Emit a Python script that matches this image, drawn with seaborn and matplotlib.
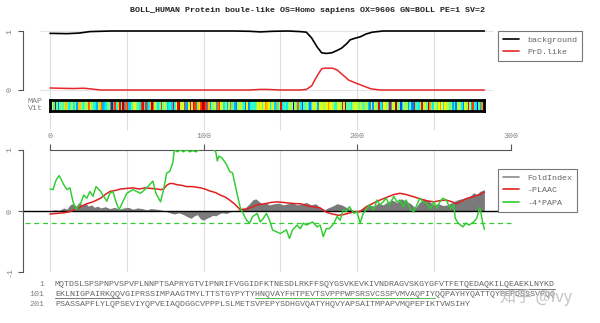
import numpy as np
import matplotlib
matplotlib.use("Agg")
import matplotlib.pyplot as plt
import seaborn as sns
from matplotlib.lines import Line2D

# ---------------- data ----------------
title = "BOLL_HUMAN Protein boule-like OS=Homo sapiens OX=9606 GN=BOLL PE=1 SV=2"

seq_line1 = "MQTDSLSPSPNPVSPVPLNNPTSAPRYGTVIPNRIFVGGIDFKTNESDLRKFFSQYGSVKEVKIVNDRAGVSKGYGFVTFETQEDAQKILQEAEKLNYKD"
seq_line2 = "EKLNIGPAIRKQQVGIPRSSIMPAAGTMYLTTSTGYPYTYHNQVAYFHTPEVTSVPPPWPSRSVCSSPVMVAQPIYQQPAYHYQATTQYPEPDSSSVPQQ"
seq_line3 = "PSASSAPFLYLQPSEVIYQPVEIAQDGGCVPPPLSLMETSVPEPYSDHGVQATYHQVYAPSAITMPAPVMQPEPIKTVWSIHY"
line_numbers = ["1", "101", "201"]
core_underline = (78, 113)      # residues underlined in gray
prd_underline = (141, 176)      # residues underlined in green

# per-residue colour value (jet colormap) used for the MAP/Vit strip
aa_score = {'D': 0.95, 'E': 0.9, 'K': 0.85, 'R': 0.8, 'H': 0.75, 'N': 0.7, 'Y': 0.65, 'Q': 0.62,
            'A': 0.58, 'P': 0.55, 'G': 0.5, 'S': 0.45, 'T': 0.4, 'V': 0.36, 'F': 0.33, 'I': 0.3,
            'L': 0.28, 'M': 0.25, 'C': 0.2, 'W': 0.1}

# top panel
bg_res = [0, 5, 11, 19, 26, 33, 40, 60, 80, 100, 120, 130, 137, 145, 155, 163, 167, 170.5, 174, 177,
          180, 183.5, 187, 190, 193.5, 195.5, 199, 202, 206, 210, 217, 240, 260, 283]
bg_val = [0.96, 0.958, 0.955, 0.965, 0.99, 0.995, 1.0, 1.0, 1.0, 1.0, 1.0, 0.995, 0.985, 0.995, 1.0, 0.99, 0.98, 0.88, 0.73, 0.63,
          0.62, 0.63, 0.67, 0.71, 0.79, 0.85, 0.88, 0.9, 0.95, 0.98, 1.0, 1.0, 1.0, 1.0]
prd_res = [0, 6, 15, 22, 26, 33, 40, 80, 130, 137, 141, 150, 163, 167, 170.5, 172.5, 175, 177,
           179, 184, 187, 191, 194.5, 198, 201, 205, 209, 215, 240, 283]
prd_val = [0.034, 0.03, 0.025, 0.03, 0.02, 0.0, 0.0, 0.0, 0.0, 0.01, 0.01, 0.0, 0.0, 0.01, 0.07, 0.17, 0.28, 0.36,
           0.37, 0.37, 0.34, 0.25, 0.17, 0.13, 0.10, 0.06, 0.02, 0.0, 0.0, 0.0]

# bottom panel
fold_res = [0, 3, 6, 9, 11, 13, 15, 17, 19, 21, 23, 25, 27, 29, 31, 33, 36, 39, 42, 45, 48, 51, 54, 57, 60,
            63, 66, 69, 72, 75, 78, 81, 84, 87, 90, 92, 94, 96, 98, 100, 102, 104, 106, 108, 110, 112, 115,
            118, 121, 124, 127, 130, 132, 134, 136, 138, 140, 143, 146, 149, 152, 155, 158, 161, 164, 167,
            170, 173, 176, 179, 181, 184, 187, 190, 193, 196, 199, 202, 205, 208, 211, 214, 217, 220, 223,
            226, 229, 232, 235, 238, 241, 244, 247, 250, 253, 256, 259, 262, 265, 268, 271, 274, 276, 278,
            280, 283]
fold_val = [0.0, 0.02, 0.01, 0.05, 0.03, 0.1, 0.12, 0.08, 0.14, 0.1, 0.13, 0.08, 0.1, 0.06, 0.08, 0.05, 0.07,
            0.04, 0.06, 0.03, 0.05, 0.06, 0.03, 0.05, 0.04, 0.02, 0.04, 0.03, 0.02, 0.0, -0.03, -0.05, -0.03,
            -0.06, -0.1, -0.12, -0.08, -0.06, -0.13, -0.15, -0.12, -0.1, -0.07, -0.08, -0.05, -0.03, -0.04,
            -0.01, 0.01, 0.02, 0.05, 0.12, 0.18, 0.2, 0.16, 0.12, 0.14, 0.1, 0.12, 0.13, 0.1, 0.12, 0.13, 0.1,
            0.12, 0.14, 0.1, 0.12, 0.06, 0.02, 0.05, 0.08, 0.12, 0.1, 0.06, 0.02, 0.0, 0.02, 0.05, 0.1, 0.08,
            0.13, 0.1, 0.15, 0.18, 0.14, 0.2, 0.16, 0.12, 0.05, 0.15, 0.2, 0.16, 0.1, 0.12, 0.09, 0.1, 0.14,
            0.18, 0.2, 0.22, 0.25, 0.3, 0.27, 0.32, 0.35]
plaac_res = [0, 4, 9, 13, 17, 20, 24, 28, 33, 36, 39, 43, 46, 50, 54, 58, 62, 66, 70, 72, 74, 76, 78, 80, 83,
             86, 89, 93, 98, 101, 104, 108, 111, 114, 117, 120, 122, 124, 126, 128, 131, 135, 140, 144, 148,
             152, 156, 160, 163, 167, 171, 176, 180, 184, 188, 191, 194, 197, 202, 206, 210, 215, 220, 224,
             228, 232, 236, 241, 245, 250, 254, 258, 262, 265, 268, 271, 275, 280, 283]
plaac_val = [-0.05, -0.04, -0.03, -0.01, 0.03, 0.07, 0.12, 0.15, 0.21, 0.27, 0.32, 0.34, 0.36, 0.37, 0.38, 0.36,
             0.38, 0.37, 0.36, 0.35, 0.36, 0.42, 0.45, 0.45, 0.43, 0.42, 0.40, 0.40, 0.38, 0.36, 0.33, 0.30,
             0.26, 0.23, 0.18, 0.12, 0.07, 0.02, 0.03, 0.03, 0.06, 0.10, 0.12, 0.14, 0.15, 0.14, 0.13, 0.12,
             0.12, 0.09, 0.07, 0.05, -0.02, -0.05, -0.07, -0.06, -0.04, -0.02, -0.01, 0.07, 0.12, 0.18, 0.23,
             0.27, 0.29, 0.27, 0.24, 0.2, 0.17, 0.15, 0.17, 0.18, 0.15, 0.12, 0.16, 0.2, 0.23, 0.27, 0.31]
papa_res = [0, 2, 4, 6, 9, 11, 13, 15, 17, 20, 22, 24, 26, 28, 30, 33, 35, 37, 39, 41, 43, 45, 48, 50, 54,
            59, 63, 67, 69, 72, 74, 76, 78, 80, 81, 83, 85, 87, 89, 91, 93, 95, 97, 99, 102, 105, 107, 108,
            109, 110, 112, 114, 115, 117, 119, 120, 122, 124, 126, 128, 130, 132, 135, 137, 139, 141, 143,
            145, 150, 154, 156, 158, 161, 163, 165, 167, 171, 174, 176, 178, 180, 182, 185, 187, 189, 191,
            193, 195, 198, 200, 202, 204, 206, 208, 211, 213, 215, 217, 219, 221, 224, 226, 228, 230, 232,
            235, 237, 239, 241, 243, 245, 248, 250, 252, 254, 256, 258, 261, 263, 264, 266, 269, 271, 273,
            276, 278, 280, 282, 283]
papa_val = [0.36, 0.35, 0.51, 0.58, 0.43, 0.35, 0.38, 0.15, 0.02, 0.13, 0.26, 0.21, 0.32, 0.24, 0.40, 0.32,
            0.24, 0.16, 0.29, 0.32, 0.15, 0.02, 0.18, 0.29, 0.35, 0.29, 0.38, 0.49, 0.29, 0.15, 0.35, 0.62,
            0.65, 0.79, 1.0, 0.97, 1.0, 0.97, 1.01, 0.97, 0.99, 0.97, 1.0, 1.1, 1.15, 1.1, 1.0, 0.97, 0.82,
            0.9, 0.87, 0.8, 0.76, 0.65, 0.62, 0.5, 0.27, 0.05, -0.05, -0.15, -0.2, -0.09, -0.04, -0.18, -0.12,
            -0.04, -0.15, -0.31, -0.37, -0.31, -0.45, -0.31, -0.23, -0.29, -0.2, -0.23, -0.18, -0.26, -0.23,
            -0.42, -0.29, -0.29, -0.2, -0.09, -0.15, 0.02, -0.01, 0.07, -0.04, -0.01, -0.2, -0.04, 0.02, 0.1,
            0.02, 0.18, 0.1, 0.15, 0.21, 0.1, 0.24, 0.15, 0.18, 0.07, 0.18, 0.02, -0.01, 0.1, 0.21, 0.15,
            0.13, 0.04, 0.15, 0.04, 0.15, 0.21, 0.18, 0.04, 0.1, -0.12, -0.2, -0.26, -0.2, -0.23, -0.18,
            -0.12, 0.06, -0.2, -0.3]
papa_threshold = -0.2

legend_top = ["background", "PrD.like"]
legend_bottom = ["FoldIndex", "-PLAAC", "-4*PAPA"]

# ---------------- styling / layout ----------------
sns.set_theme(style="white")
plt.rcParams['font.family'] = ['Liberation Mono', 'DejaVu Sans']

W, H = 600, 323
fig = plt.figure(figsize=(6.0, 3.23), dpi=100)

X0, SX = 50.0, 1.535           # pixel position of residue 0, pixels per residue
AXL, AXR = 23.0, 520.0
xlim = ((AXL - X0) / SX, (AXR - X0) / SX)

def fpos(l, t, r, b):
    return [l / W, 1 - b / H, (r - l) / W, (b - t) / H]

axis_col = "#555555"
lab_col = "#808080"
fs = 6

# top panel
ax1 = fig.add_axes(fpos(AXL, 28, AXR, 93))
ax1.set_xlim(*xlim)
ax1.set_ylim((90 - 93) / 59.0, (90 - 28) / 59.0)
ax1.vlines([0, 50, 100, 150, 200, 250], (90 - 130) / 59.0, 1.0, color="#dddddd", lw=0.8, clip_on=False, zorder=0)
ax1.hlines([0, 1], -6.5, 288.5, color="#e4e4e4", lw=0.8, zorder=0)
sns.lineplot(x=bg_res, y=bg_val, ax=ax1, color="black", linewidth=1.2, estimator=None, sort=False, legend=False)
sns.lineplot(x=prd_res, y=prd_val, ax=ax1, color="#e8262b", linewidth=1.1, estimator=None, sort=False, legend=False)
for s in ["top", "right", "bottom"]:
    ax1.spines[s].set_visible(False)
ax1.spines["left"].set_bounds(0, 1)
ax1.spines["left"].set_color(axis_col)
ax1.spines["left"].set_linewidth(0.8)
ax1.set_xticks([])
ax1.set_yticks([0, 1])
ax1.set_yticklabels(["0", "1"])
ax1.tick_params(axis="y", left=True, length=3.6, width=0.8, color=axis_col, labelcolor=lab_col,
                labelsize=fs, pad=3, labelrotation=90)
for t in ax1.get_yticklabels():
    t.set_va("center")
ax1.set_xlabel("")
ax1.set_ylabel("")
ax1.patch.set_alpha(0)

# MAP / Vit strip
full_seq = seq_line1 + seq_line2 + seq_line3
strip = np.array([[aa_score[a] for a in full_seq]])
ax3 = fig.add_axes(fpos(X0, 100, X0 + SX * len(full_seq), 111))
sns.heatmap(strip, ax=ax3, cmap="jet", vmin=0, vmax=1, cbar=False, xticklabels=False, yticklabels=False)
for s in ax3.spines.values():
    s.set_visible(True)
    s.set_color("black")
    s.set_linewidth(2.0)
fig.text(43 / W, 1 - 101 / H, "MAP", ha="right", va="center", fontsize=fs, color=lab_col)
fig.text(43 / W, 1 - 109 / H, "Vit", ha="right", va="center", fontsize=fs, color=lab_col)

# bottom panel
ax2 = fig.add_axes(fpos(AXL, 150, AXR, 272))
ax2.set_xlim(*xlim)
ax2.set_ylim(-1, 1)
ax2.vlines([0, 50, 100, 150, 200, 250], -1, 1, color="#dddddd", lw=0.8, zorder=0)
ax2.fill_between(fold_res, fold_val, 0, color="#7a7a7a", lw=0, zorder=1)
ax2.plot([xlim[0], 300], [0, 0], color="black", lw=1.0, zorder=2, clip_on=False)
ax2.plot([(25 - X0) / SX, 300], [papa_threshold, papa_threshold], color="#33cc33", lw=0.9,
         ls=(0, (4, 3)), zorder=2)
sns.lineplot(x=plaac_res, y=plaac_val, ax=ax2, color="#e02020", linewidth=1.1, estimator=None, sort=False,
             legend=False, zorder=3)
sns.lineplot(x=papa_res, y=papa_val, ax=ax2, color="#2ecc2e", linewidth=1.05, estimator=None, sort=False,
             legend=False, zorder=4)
for s in ["right", "bottom"]:
    ax2.spines[s].set_visible(False)
ax2.spines["left"].set_bounds(-1, 1)
ax2.spines["top"].set_bounds(0, 300)
for s in ["left", "top"]:
    ax2.spines[s].set_color(axis_col)
    ax2.spines[s].set_linewidth(0.8)
ax2.xaxis.set_ticks_position("top")
ax2.set_xticks([0, 100, 200, 300])
ax2.set_xticklabels(["0", "100", "200", "300"])
ax2.tick_params(axis="x", top=True, bottom=False, length=4.3, width=0.8, color=axis_col,
                labelcolor=lab_col, labelsize=fs, pad=3)
ax2.set_yticks([-1, 0, 1])
ax2.set_yticklabels(["-1", "0", "1"])
ax2.tick_params(axis="y", left=True, length=3.6, width=0.8, color=axis_col, labelcolor=lab_col,
                labelsize=fs, pad=3, labelrotation=90)
for t in ax2.get_yticklabels():
    t.set_va("center")
ax2.set_xlabel("")
ax2.set_ylabel("")
ax2.patch.set_alpha(0)

# legends
leg_kw = dict(loc="upper left", bbox_transform=fig.transFigure, frameon=True, fancybox=False,
              borderaxespad=0, handlelength=1.9, handletextpad=1.0, borderpad=0.6, labelspacing=0.55,
              prop={"family": "Liberation Mono", "size": fs}, labelcolor="#666666")
h_top = [Line2D([0], [0], color="black", lw=1.2), Line2D([0], [0], color="#e8262b", lw=1.2)]
lg1 = ax1.legend(h_top, legend_top, bbox_to_anchor=(498 / W, 1 - 31 / H), **leg_kw)
h_bot = [Line2D([0], [0], color="#8a8a8a", lw=1.2), Line2D([0], [0], color="#e02020", lw=1.2),
         Line2D([0], [0], color="#2ecc2e", lw=1.2)]
lg2 = ax2.legend(h_bot, legend_bottom, bbox_to_anchor=(498 / W, 1 - 169 / H), **leg_kw)
for lg in (lg1, lg2):
    fr = lg.get_frame()
    fr.set_edgecolor("#777777")
    fr.set_linewidth(0.8)
    fr.set_alpha(1)

# title
fig.text(308 / W, 1 - 11 / H, title, ha="center", va="center", fontsize=fs, fontweight="bold",
         color="#222222", family="Liberation Mono")

# sequence block
seq_fs = 6.0
char_px = 0.6 * seq_fs * 100 / 72.0
seq_x0 = 55.0
line_y = [285.0, 294.5, 304.5]
for num, line, yy in zip(line_numbers, [seq_line1, seq_line2, seq_line3], line_y):
    fig.text(44 / W, 1 - yy / H, num, ha="right", va="center", fontsize=seq_fs, color=lab_col)
    fig.text(seq_x0 / W, 1 - yy / H, line, ha="left", va="center", fontsize=seq_fs, color="#666666")

def underline(start, end, color):
    for i, yy in enumerate(line_y):
        lo, hi = i * 100 + 1, i * 100 + 100
        a, b = max(start, lo), min(end, hi)
        if a > b:
            continue
        xa = seq_x0 + (a - lo) * char_px
        xb = seq_x0 + (b - lo + 1) * char_px
        fig.add_artist(Line2D([xa / W, xb / W], [1 - (yy + 3.5) / H] * 2, color=color, lw=0.7,
                              transform=fig.transFigure))

underline(*core_underline, "#777777")
underline(*prd_underline, "#55bb55")

# watermark
fig.text(500 / W, 1 - 297 / H, "知乎 @Ivy", ha="left", va="center", fontsize=11.5,
         color="#bdbdbd", alpha=0.9, family=["Noto Sans CJK SC", "DejaVu Sans"])

fig.savefig("out.png", dpi=100)
